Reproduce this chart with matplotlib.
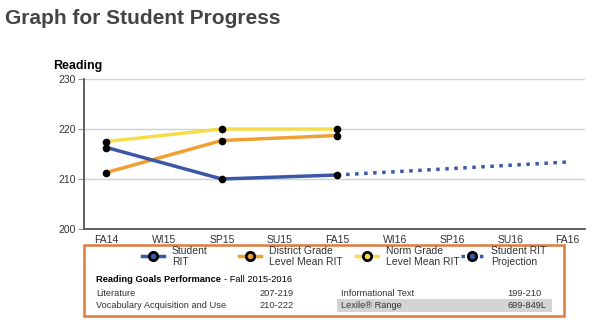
import matplotlib.pyplot as plt
from matplotlib.lines import Line2D
from matplotlib.patches import Rectangle

plt.rcParams['font.family'] = ['Liberation Sans', 'DejaVu Sans']

terms = ["FA14", "WI15", "SP15", "SU15", "FA15", "WI16", "SP16", "SU16", "FA16"]

# measured terms (index into terms)
obsIdx = [0, 2, 4]
studentRit = [216.3, 210.0, 210.8]
districtMean = [211.3, 217.7, 218.7]
normMean = [217.5, 220.0, 220.0]

projIdx = [4, 8]
projRit = [210.8, 213.4]

goalNames = ["Literature", "Vocabulary Acquisition and Use", "Informational Text", "Lexile\u00ae Range"]
goalRanges = ["207-219", "210-222", "199-210", "699-849L"]

cBlue = "#3a58a6"
cOrange = "#f0a032"
cYellow = "#f6dc48"
cText = "#333333"

fig = plt.figure(figsize=(6, 3.33), dpi=100)

# main chart
ax = fig.add_axes([84/600, 1-229/333, (585-84)/600, 150/333])
ax.set_xlim(-0.39, 8.3)
ax.set_ylim(200, 230)
ax.set_yticks([200, 210, 220, 230])
ax.set_xticks(range(len(terms)))
ax.set_xticklabels(terms)
for yv in [210, 220, 230]:
    ax.axhline(yv, color="#d0d0d0", lw=1, zorder=0)
for s in ["top", "right"]:
    ax.spines[s].set_visible(False)
for s in ["left", "bottom"]:
    ax.spines[s].set_color("#555555")
    ax.spines[s].set_linewidth(1.3)
ax.tick_params(axis="x", length=0, labelsize=7.5, colors=cText, pad=4)
ax.tick_params(axis="y", length=4, width=0.8, color="#999999", labelsize=7.5, colors=cText, pad=2)

ax.plot(projIdx, projRit, color=cBlue, lw=2.5, ls=(0, (1, 1.6)), zorder=2)
ax.plot(obsIdx, normMean, color=cYellow, lw=2.5, zorder=3)
ax.plot(obsIdx, districtMean, color=cOrange, lw=2.5, zorder=3)
ax.plot(obsIdx, studentRit, color=cBlue, lw=2.5, zorder=3)
for vals in [normMean, districtMean, studentRit]:
    ax.plot(obsIdx, vals, ls="none", marker="o", ms=4.5, color="black", zorder=4)

# overlay in pixel coords for titles and legend box
ov = fig.add_axes([0, 0, 1, 1], facecolor="none")
ov.set_xlim(0, 600)
ov.set_ylim(333, 0)
ov.axis("off")

ov.text(5, 19, "Graph for Student Progress", fontsize=15, fontweight="bold",
        color="#444444", va="center", ha="left")
ov.text(53, 66, "Reading", fontsize=9, fontweight="bold", color="black",
        va="center", ha="left")

ov.add_patch(Rectangle((84, 245), 480, 71, fill=False, ec="#e0793a", lw=1.8))

legendItems = [
    (153, cBlue, "-", "Student\nRIT"),
    (250, cOrange, "-", "District Grade\nLevel Mean RIT"),
    (367, cYellow, "-", "Norm Grade\nLevel Mean RIT"),
    (472, cBlue, ":", "Student RIT\nProjection"),
]
for lx, col, style, lab in legendItems:
    ov.add_line(Line2D([lx-11, lx+11], [256, 256], color=col, lw=2.5, ls=style))
    ov.plot([lx], [256], marker="o", ms=6, mfc=col, mec="black", mew=2)
    ov.text(lx+19, 256.5, lab, fontsize=7.5, color=cText, va="center", ha="left",
            linespacing=1.15)

ov.text(96, 280, "Reading Goals Performance", fontsize=6.7, fontweight="bold",
        color="black", va="center", ha="left")
ov.text(224, 280, "- Fall 2015-2016", fontsize=6.7, color="black", va="center", ha="left")

ov.add_patch(Rectangle((337, 298.5), 215, 13.5, color="#d4d4d4", lw=0))
rowPos = [(96, 260, 293), (96, 260, 306), (341, 507, 293), (341, 507, 305)]
for (nx, vx, ny), nm, rg in zip(rowPos, goalNames, goalRanges):
    ov.text(nx, ny, nm, fontsize=6.7, color=cText, va="center", ha="left")
    ov.text(vx, ny, rg, fontsize=6.7, color=cText, va="center", ha="left")

fig.savefig("out.png", dpi=100)
